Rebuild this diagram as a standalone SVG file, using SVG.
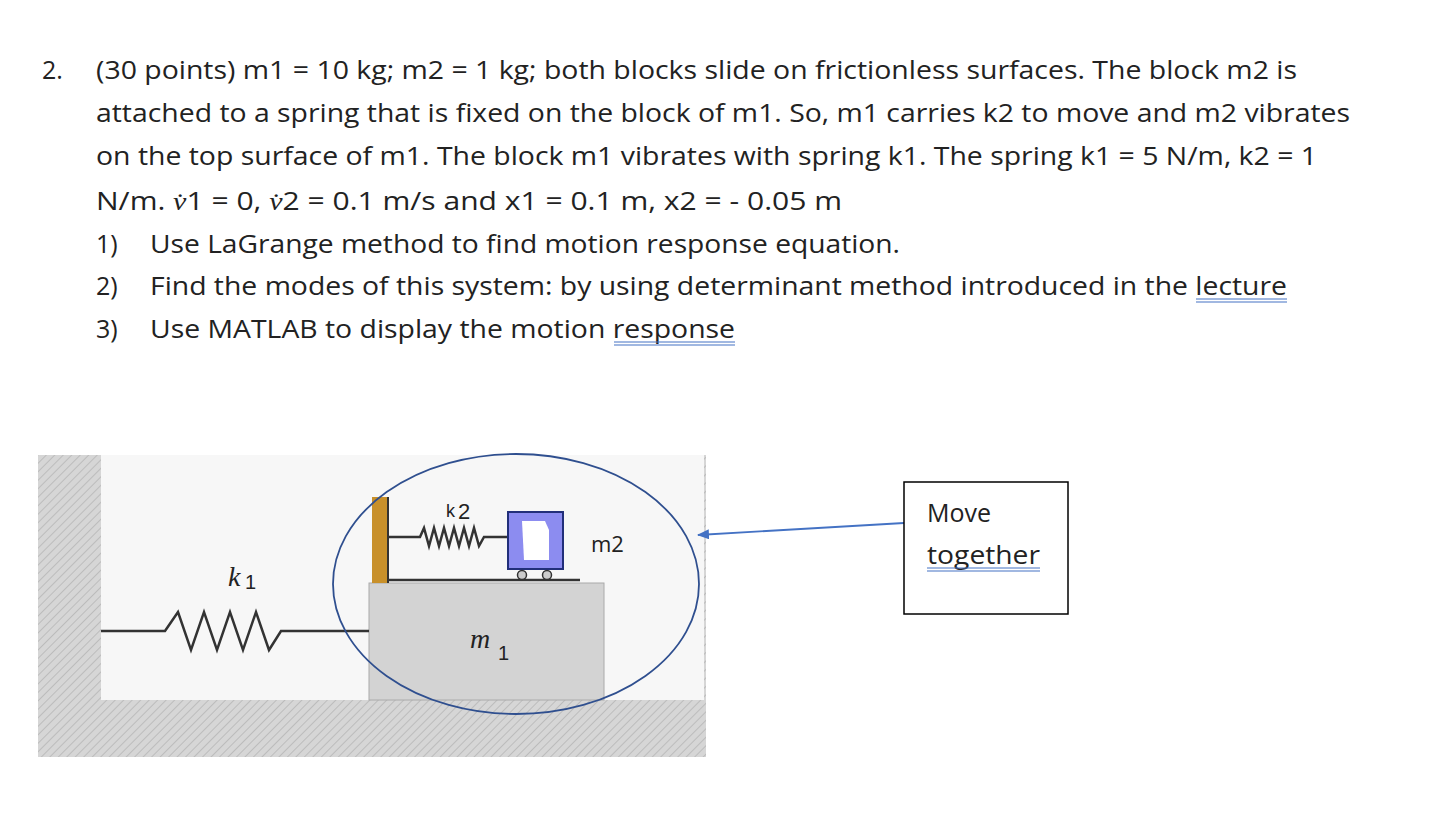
<svg xmlns="http://www.w3.org/2000/svg" width="1456" height="817" viewBox="0 0 1456 817">
<defs>
<pattern id="hatch" width="6" height="6" patternUnits="userSpaceOnUse" patternTransform="rotate(45)">
<rect width="6" height="6" fill="#d6d6d6"/><line x1="0" y1="0" x2="0" y2="6" stroke="#bcbcbc" stroke-width="2"/>
</pattern>
<marker id="ah" markerWidth="12" markerHeight="10" refX="11" refY="5" orient="auto" markerUnits="userSpaceOnUse"><path d="M0,0 L12,5 L0,10 z" fill="#4472c4"/></marker>
<style>
.t{font-family:"Open Sans","Noto Sans",sans-serif;font-size:25px;fill:#222}
.s{fill:none;stroke:#333;stroke-width:2.5}
</style>
</defs>
<rect width="1456" height="817" fill="#fff"/>
<g id="text">
<text class="t" x="42" y="79">2.</text>
<text class="t" x="96" y="79" textLength="1201" lengthAdjust="spacingAndGlyphs">(30 points) m1 = 10 kg; m2 = 1 kg; both blocks slide on frictionless surfaces. The block m2 is</text>
<text class="t" x="96" y="122" textLength="1254" lengthAdjust="spacingAndGlyphs">attached to a spring that is fixed on the block of m1. So, m1 carries k2 to move and m2 vibrates</text>
<text class="t" x="96" y="165" textLength="1221" lengthAdjust="spacingAndGlyphs">on the top surface of m1. The block m1 vibrates with spring k1. The spring k1 = 5 N/m, k2 = 1</text>
<text class="t" x="96" y="210" textLength="746" lengthAdjust="spacingAndGlyphs">N/m. <tspan font-family="Liberation Serif,serif" font-style="italic">v̇</tspan>1 = 0, <tspan font-family="Liberation Serif,serif" font-style="italic">v̇</tspan>2 = 0.1 m/s and x1 = 0.1 m, x2 = - 0.05 m</text>
<text class="t" x="96" y="253">1)</text>
<text class="t" x="150" y="253" textLength="750" lengthAdjust="spacingAndGlyphs">Use LaGrange method to find motion response equation.</text>
<text class="t" x="96" y="295">2)</text>
<text class="t" x="150" y="295" textLength="1137" lengthAdjust="spacingAndGlyphs">Find the modes of this system: by using determinant method introduced in the lecture</text>
<text class="t" x="96" y="338">3)</text>
<text class="t" x="150" y="338" textLength="585" lengthAdjust="spacingAndGlyphs">Use MATLAB to display the motion response</text>
<path d="M1196,299 H1287 M1196,302 H1287 M614,342 H735 M614,345 H735" stroke="#4472c4" stroke-width="1.2"/>
</g>
<g id="figure">
<rect x="38" y="455" width="668" height="302" fill="url(#hatch)"/>
<rect x="101" y="455" width="603" height="245" fill="#f7f7f7"/>
<rect x="369" y="583" width="235" height="117" fill="#d3d3d3" stroke="#aaa"/>
<text x="470" y="648" font-family="Liberation Serif,serif" font-style="italic" font-size="28" fill="#222">m</text>
<text x="498" y="660" font-family="Liberation Sans,sans-serif" font-size="20" fill="#222">1</text>
<rect x="372" y="497" width="16" height="86" fill="#c8902a"/>
<line x1="388" y1="497" x2="388" y2="583" stroke="#333" stroke-width="2"/>
<line x1="388" y1="580" x2="580" y2="580" stroke="#333" stroke-width="2.5"/>
<path class="s" d="M101,631 H165 L178,612 L191,650 L204,612 L217,650 L230,612 L243,650 L256,612 L269,650 L281,631 H369"/>
<text x="228" y="586" font-family="Liberation Serif,serif" font-style="italic" font-size="28" fill="#222">k</text>
<text x="245" y="589" font-family="Liberation Sans,sans-serif" font-size="20" fill="#222">1</text>
<path class="s" stroke-width="2" d="M388,537 H420 L424,528 L429,546 L434,528 L439,546 L444,528 L449,546 L454,528 L459,546 L464,528 L469,546 L474,528 L479,546 L484,537 H507"/>
<text x="446" y="517" font-family="Liberation Sans,sans-serif" font-size="18" fill="#222">k</text>
<text x="458" y="519" font-family="Liberation Sans,sans-serif" font-size="22" fill="#222">2</text>
<rect x="508" y="512" width="55" height="57" fill="#8c8cf0" stroke="#222f7a" stroke-width="2"/>
<path d="M522,521 H545 L549,530 V560 H524 Z" fill="#fff"/>
<circle cx="522" cy="575" r="4.5" fill="#ccc" stroke="#333" stroke-width="1.5"/>
<circle cx="547" cy="575" r="4.5" fill="#ccc" stroke="#333" stroke-width="1.5"/>
<text x="591" y="552" font-family="Open Sans,sans-serif" font-size="22" fill="#222">m2</text>
<ellipse cx="516" cy="584" rx="183" ry="130" fill="none" stroke="#2f4f8f" stroke-width="1.8"/>
</g>
<g id="connectors">
<line x1="904" y1="523" x2="698" y2="535" stroke="#4472c4" stroke-width="1.8" marker-end="url(#ah)"/>
</g>
<g id="box">
<rect x="904" y="482" width="164" height="132" fill="#fff" stroke="#000" stroke-width="1.5"/>
<text class="t" x="927" y="522">Move</text>
<text class="t" x="927" y="564" textLength="113" lengthAdjust="spacingAndGlyphs">together</text>
<path d="M927,568 H1040 M927,571 H1040" stroke="#4472c4" stroke-width="1.2"/>
</g>
</svg>
